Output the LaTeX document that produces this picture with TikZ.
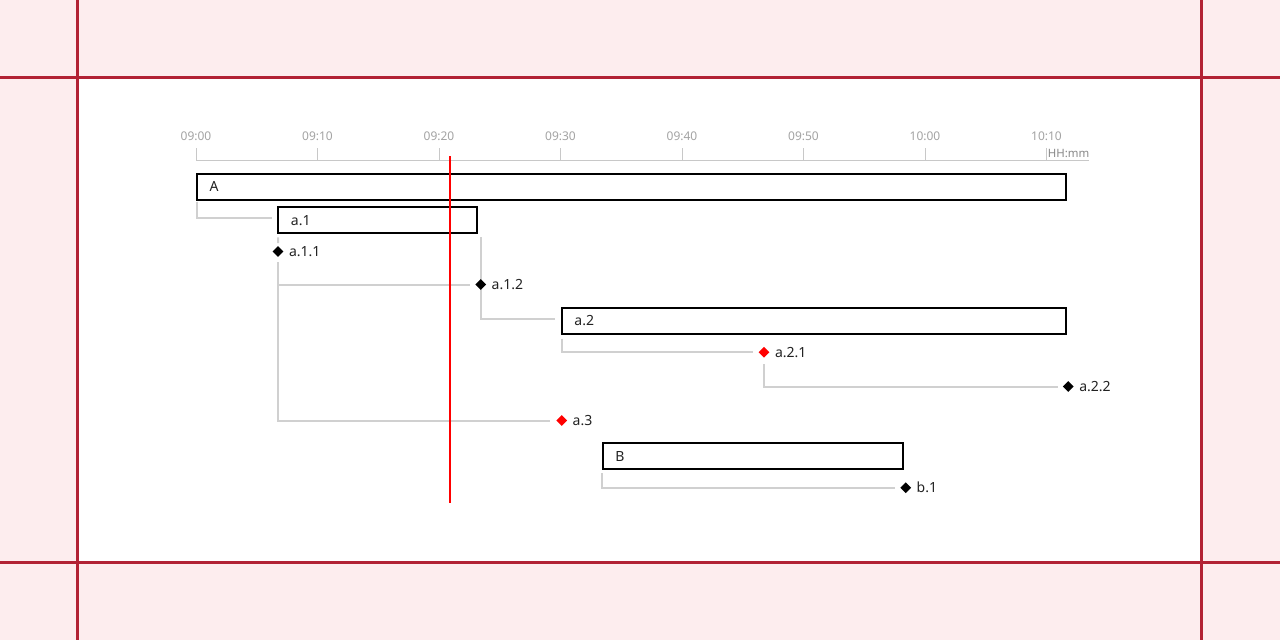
\documentclass[tikz,border=0pt]{standalone}
\usepackage{fontspec}
\setmainfont{Noto Sans}
\usetikzlibrary{shapes.geometric,calc}
\definecolor{bgpink}{HTML}{FDEDEE}
\definecolor{framered}{HTML}{B22234}
\definecolor{conngray}{HTML}{D0D0D0}
\definecolor{axisgray}{HTML}{A3A3A3}
\definecolor{axisline}{HTML}{C8C8C8}
\definecolor{unitgray}{HTML}{8A8A8A}
\definecolor{txt}{HTML}{222222}
\definecolor{msred}{HTML}{FF0000}
\pgfdeclarelayer{bottom}
\pgfdeclarelayer{background}
\pgfsetlayers{bottom,background,main}
\tikzset{
  taskbox/.style={draw=black, line width=1.5pt, fill=white, minimum height=19.5pt,
    inner xsep=9.5pt, inner ysep=0pt, align=left, text=txt,
    font=\fontsize{10.5}{12}\selectfont},
  milestone/.style={diamond, fill=black, draw=none, minimum size=8.25pt, inner sep=0pt},
  redmilestone/.style={milestone, fill=msred},
  mslabel/.style={anchor=west, inner sep=0pt, text=txt, font=\fontsize{10.5}{12}\selectfont},
  link/.style={draw=conngray, line width=1.5pt},
  axislabel/.style={text=axisgray, font=\fontsize{9}{10}\selectfont, inner sep=0pt},
  nowline/.style={draw=msred, line width=1.5pt},
  framestroke/.style={draw=framered, line width=2.25pt}
}
\begin{document}
\begin{tikzpicture}[x=0.75pt, y=-0.75pt]
\useasboundingbox (0,0) rectangle (1280,640);
\begin{pgfonlayer}{bottom}
  \fill[bgpink] (0,0) rectangle (1280,640);
  \fill[white] (78,78) rectangle (1201.5,561.5);
  \draw[framestroke] (77.7,0) -- (77.7,640);
  \draw[framestroke] (1201.6,0) -- (1201.6,640);
  \draw[framestroke] (0,77.7) -- (1280,77.7);
  \draw[framestroke] (0,562) -- (1280,562);
\end{pgfonlayer}

% time axis
\coordinate (axL) at (196,160);
\coordinate (axR) at (1089,160);
\draw[axisline, line width=0.75pt] (axL) -- (axR);
\foreach \lab [count=\i from 0] in {09:00,09:10,09:20,09:30,09:40,09:50,10:00,10:10}{
  \coordinate (tk\i) at ({196+121.5*\i},160);
  \draw[axisline, line width=0.75pt] (tk\i) -- ++(0,-12);
  \node[axislabel] (tl\i) at ({196+121.5*\i},136) {\lab};
}
\node[anchor=west, inner sep=0pt, text=unitgray, font=\fontsize{8.6}{10}\selectfont] (unit) at (1047.5,153) {HH:mm};

% tasks
\node[taskbox, text width=632.75pt] (A)  at (631.5,186.5) {A};
\node[taskbox, text width=130.25pt] (a1) at (377.8,220.4) {a.1};
\node[taskbox, text width=359.2pt]  (a2) at (813.9,321)   {a.2};
\node[taskbox, text width=206.5pt]  (B)  at (753,456.4)   {B};

% milestones
\node[milestone]    (a11) at (278,251.5)    {};
\node[milestone]    (a12) at (480.7,284.5)  {};
\node[redmilestone] (a21) at (764,352.3)    {};
\node[milestone]    (a22) at (1068.3,386.5) {};
\node[redmilestone] (a3)  at (561.7,420.5)  {};
\node[milestone]    (b1)  at (905.7,487.7)  {};

\node[mslabel] (a11l) at ($(a11.east)+(5,0)$) {a.1.1};
\node[mslabel] (a12l) at ($(a12.east)+(5,0)$) {a.1.2};
\node[mslabel] (a21l) at ($(a21.east)+(5,0)$) {a.2.1};
\node[mslabel] (a22l) at ($(a22.east)+(5,0)$) {a.2.2};
\node[mslabel] (a3l)  at ($(a3.east)+(5,0)$)  {a.3};
\node[mslabel] (b1l)  at ($(b1.east)+(5,0)$)  {b.1};

% connectors
\begin{pgfonlayer}{background}
  \draw[link] ($(A.south west)+(0.75,1)$) |- ($(a1.west)+(-5.6,-2.7)$);
  \draw[link] ($(a1.south west)+(0.7,3)$) -- ($(a11.north)+(0,-2.5)$);
  \draw[link] ($(a11.south)+(0,5)$) |- ($(a12.west)+(-5,0)$);
  \draw[link] ($(a11.south)+(0,5)$) |- ($(a3.west)+(-6,0)$);
  \draw[link] ($(a12.center |- a1.south)+(0,3)$) |- ($(a2.west)+(-5.7,-2)$);
  \draw[link] ($(a2.south west)+(0.8,3.5)$) |- ($(a21.west)+(-5,0)$);
  \draw[link] ($(a21.south)+(0,6)$) |- ($(a22.west)+(-5,0)$);
  \draw[link] ($(B.south west)+(0.5,3)$) |- ($(b1.west)+(-5,0)$);
\end{pgfonlayer}

% current time marker
\coordinate (nowtop) at (450,156);
\coordinate (nowbot) at (450,502.5);
\draw[nowline] (nowtop) -- (nowbot);
\end{tikzpicture}
\end{document}
